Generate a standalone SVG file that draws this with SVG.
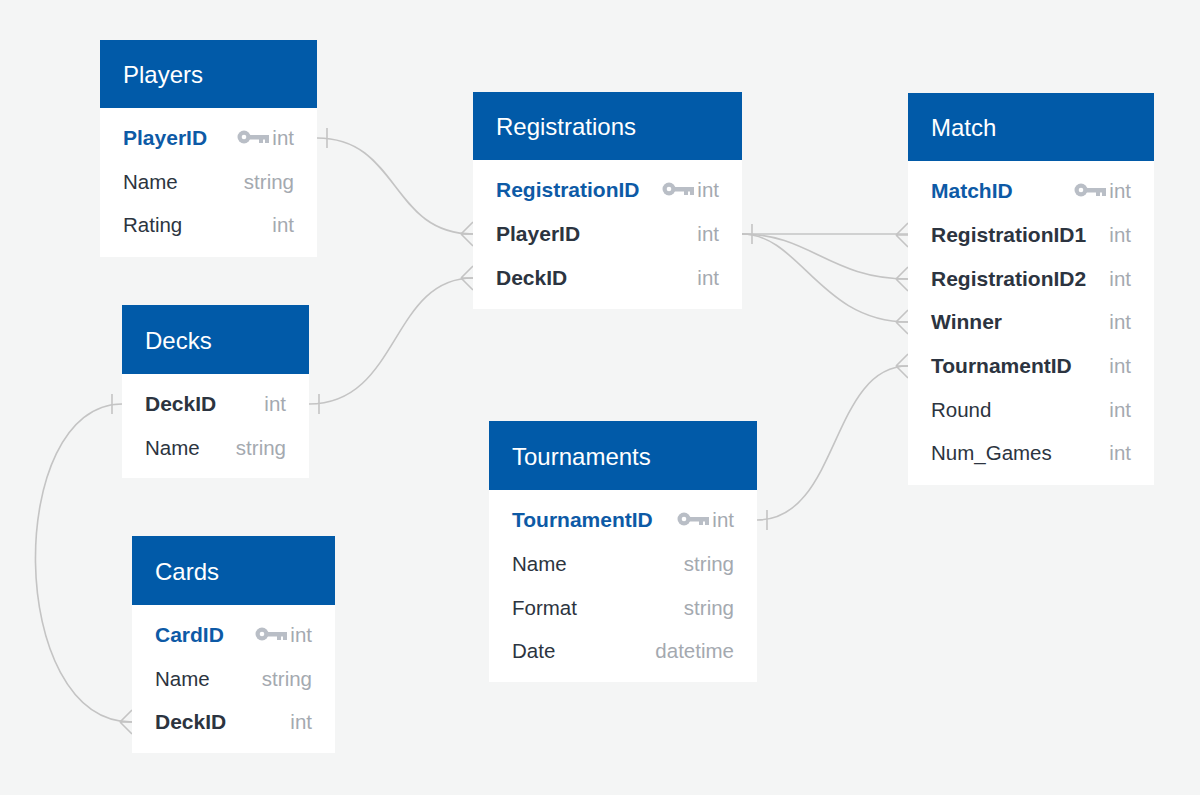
<svg xmlns="http://www.w3.org/2000/svg" width="1200" height="795" viewBox="0 0 1200 795">
<style>
.bg{fill:#f4f5f5}
.box{fill:#fff}
.hd{fill:#015aa8}
.ht{font-family:"Liberation Sans",Arial,sans-serif;font-size:24px;fill:#fff}
.f{font-family:"Liberation Sans",Arial,sans-serif;font-size:20.5px;fill:#2c3440}
.b{font-weight:bold;font-size:21px}
.pk{font-weight:bold;font-size:21px;fill:#0d5aa6}
.t{font-family:"Liberation Sans",Arial,sans-serif;font-size:20.5px;fill:#a4a9b0;text-anchor:end}
.c{fill:none;stroke:#c4c4c4;stroke-width:1.6}
.k{fill:#b9bec6}
</style>
<defs>
<g id="key"><circle cx="0" cy="0" r="6.5" class="k"/><circle cx="0" cy="0" r="2.3" fill="#fff"/><rect x="5" y="-2" width="20" height="4.5" class="k"/><rect x="15" y="1" width="4" height="5" class="k"/><rect x="21" y="1" width="4" height="5" class="k"/></g>
</defs>
<rect class="bg" width="1200" height="795"/>
<g id="connectors">
<path class="c" d="M317,138 C400,138 390,234 473,234"/>
<path class="c" d="M327,128 V148"/>
<path class="c" d="M461,234 L473,222 M461,234 H473 M461,234 L473,246"/>
<path class="c" d="M309,404 C400,404 390,278 473,278"/>
<path class="c" d="M319,394 V414"/>
<path class="c" d="M461,278 L473,266 M461,278 H473 M461,278 L473,290"/>
<path class="c" d="M122,404 C5,404 5,722 132,722"/>
<path class="c" d="M112,394 V414"/>
<path class="c" d="M120,722 L132,710 M120,722 H132 M120,722 L132,734"/>
<path class="c" d="M742,234 H908"/>
<path class="c" d="M742,234 C810,234 830,279 908,279"/>
<path class="c" d="M742,234 C800,234 820,322 908,322"/>
<path class="c" d="M752,224 V244"/>
<path class="c" d="M896,235 L908,223 M896,235 H908 M896,235 L908,247"/>
<path class="c" d="M896,279 L908,267 M896,279 H908 M896,279 L908,291"/>
<path class="c" d="M896,322 L908,310 M896,322 H908 M896,322 L908,334"/>
<path class="c" d="M757,520 C840,520 830,366 908,366"/>
<path class="c" d="M767,510 V530"/>
<path class="c" d="M896,366 L908,354 M896,366 H908 M896,366 L908,378"/>
</g>
<g id="players">
<rect class="box" x="100" y="40" width="217" height="217"/><rect class="hd" x="100" y="40" width="217" height="68"/>
<text class="ht" x="123" y="83">Players</text>
<text class="f pk" x="123" y="145">PlayerID</text><use href="#key" x="244" y="137"/><text class="t" x="294" y="145">int</text>
<text class="f" x="123" y="189">Name</text><text class="t" x="294" y="189">string</text>
<text class="f" x="123" y="232">Rating</text><text class="t" x="294" y="232">int</text>
</g>
<g id="registrations">
<rect class="box" x="473" y="92" width="269" height="217"/><rect class="hd" x="473" y="92" width="269" height="68"/>
<text class="ht" x="496" y="135">Registrations</text>
<text class="f pk" x="496" y="197">RegistrationID</text><use href="#key" x="669" y="189"/><text class="t" x="719" y="197">int</text>
<text class="f b" x="496" y="241">PlayerID</text><text class="t" x="719" y="241">int</text>
<text class="f b" x="496" y="285">DeckID</text><text class="t" x="719" y="285">int</text>
</g>
<g id="match">
<rect class="box" x="908" y="93" width="246" height="392"/><rect class="hd" x="908" y="93" width="246" height="68"/>
<text class="ht" x="931" y="136">Match</text>
<text class="f pk" x="931" y="198">MatchID</text><use href="#key" x="1081" y="190"/><text class="t" x="1131" y="198">int</text>
<text class="f b" x="931" y="242">RegistrationID1</text><text class="t" x="1131" y="242">int</text>
<text class="f b" x="931" y="286">RegistrationID2</text><text class="t" x="1131" y="286">int</text>
<text class="f b" x="931" y="329">Winner</text><text class="t" x="1131" y="329">int</text>
<text class="f b" x="931" y="373">TournamentID</text><text class="t" x="1131" y="373">int</text>
<text class="f" x="931" y="417">Round</text><text class="t" x="1131" y="417">int</text>
<text class="f" x="931" y="460">Num_Games</text><text class="t" x="1131" y="460">int</text>
</g>
<g id="decks">
<rect class="box" x="122" y="305" width="187" height="173"/><rect class="hd" x="122" y="305" width="187" height="69"/>
<text class="ht" x="145" y="349">Decks</text>
<text class="f b" x="145" y="411">DeckID</text><text class="t" x="286" y="411">int</text>
<text class="f" x="145" y="455">Name</text><text class="t" x="286" y="455">string</text>
</g>
<g id="cards">
<rect class="box" x="132" y="536" width="203" height="217"/><rect class="hd" x="132" y="536" width="203" height="69"/>
<text class="ht" x="155" y="580">Cards</text>
<text class="f pk" x="155" y="642">CardID</text><use href="#key" x="262" y="634"/><text class="t" x="312" y="642">int</text>
<text class="f" x="155" y="686">Name</text><text class="t" x="312" y="686">string</text>
<text class="f b" x="155" y="729">DeckID</text><text class="t" x="312" y="729">int</text>
</g>
<g id="tournaments">
<rect class="box" x="489" y="421" width="268" height="261"/><rect class="hd" x="489" y="421" width="268" height="69"/>
<text class="ht" x="512" y="465">Tournaments</text>
<text class="f pk" x="512" y="527">TournamentID</text><use href="#key" x="684" y="519"/><text class="t" x="734" y="527">int</text>
<text class="f" x="512" y="571">Name</text><text class="t" x="734" y="571">string</text>
<text class="f" x="512" y="615">Format</text><text class="t" x="734" y="615">string</text>
<text class="f" x="512" y="658">Date</text><text class="t" x="734" y="658">datetime</text>
</g>
</svg>
